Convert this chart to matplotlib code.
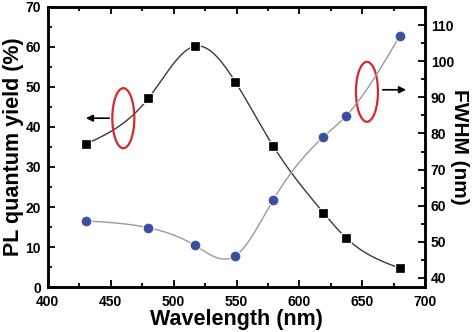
import numpy as np
import matplotlib.pyplot as plt
from matplotlib.patches import Ellipse
from matplotlib.ticker import MultipleLocator

plt.rcParams['font.family'] = ['Liberation Sans', 'DejaVu Sans']
plt.rcParams['font.weight'] = 'bold'

wavelength = [430, 480, 517, 549, 579, 619, 637, 680]
plqy = [35.7, 47.2, 60.2, 51.3, 35.3, 18.6, 12.3, 4.7]
fwhm = [55.8, 53.9, 49.0, 46.1, 61.5, 79.0, 84.8, 107.1]


def spline(x, y, n=300):
    # natural cubic spline
    x = np.asarray(x, float)
    y = np.asarray(y, float)
    k = len(x)
    h = np.diff(x)
    A = np.zeros((k, k))
    b = np.zeros(k)
    A[0, 0] = A[-1, -1] = 1
    for i in range(1, k - 1):
        A[i, i - 1] = h[i - 1]
        A[i, i] = 2 * (h[i - 1] + h[i])
        A[i, i + 1] = h[i]
        b[i] = 3 * ((y[i + 1] - y[i]) / h[i] - (y[i] - y[i - 1]) / h[i - 1])
    c = np.linalg.solve(A, b)
    xs = np.linspace(x[0], x[-1], n)
    idx = np.clip(np.searchsorted(x, xs) - 1, 0, k - 2)
    dx = xs - x[idx]
    bb = (y[idx + 1] - y[idx]) / h[idx] - h[idx] * (2 * c[idx] + c[idx + 1]) / 3
    dd = (c[idx + 1] - c[idx]) / (3 * h[idx])
    ys = y[idx] + bb * dx + c[idx] * dx ** 2 + dd * dx ** 3
    return xs, ys


fig = plt.figure(figsize=(4.74, 3.32), dpi=100)
ax = fig.add_axes([0.101, 0.1355, 0.796, 0.8435])
ax2 = ax.twinx()

xs, ys = spline(wavelength, plqy)
ax.plot(xs, ys, color='#3a3a3a', lw=1.0, zorder=2)
ax.plot(wavelength, plqy, 's', color='black', ms=6, mec='white', mew=2.0, zorder=3)
ax.plot(wavelength, plqy, 's', color='black', ms=6, mec='black', mew=0.5, zorder=4)

xs2, ys2 = spline(wavelength, fwhm)
ax2.plot(xs2, ys2, color='#9a9a9a', lw=1.0, zorder=2)
ax2.plot(wavelength, fwhm, 'o', color='#3b4f9e', ms=6.5, mec='white', mew=2.0, zorder=3)
ax2.plot(wavelength, fwhm, 'o', color='#3b4f9e', ms=6.5, mec='#3b4f9e', mew=0.5, zorder=4)

ax.set_xlim(400, 700)
ax.set_ylim(0, 70)
ax2.set_ylim(37.5, 115)

# red ellipses and arrows
ax.add_patch(Ellipse((460, 42.2), 17.5, 15, fill=False, ec='#d42a2a', lw=1.6, zorder=5))
ax.add_patch(Ellipse((653.7, 48.8), 17.5, 15, fill=False, ec='#d42a2a', lw=1.6, zorder=5))
ax.annotate('', xy=(428, 42.2), xytext=(451, 42.2),
            arrowprops=dict(arrowstyle='-|>', color='black', lw=1.2, mutation_scale=10))
ax.annotate('', xy=(687, 49.3), xytext=(664, 49.3),
            arrowprops=dict(arrowstyle='-|>', color='black', lw=1.2, mutation_scale=10))

ax.xaxis.set_major_locator(MultipleLocator(50))
ax.xaxis.set_minor_locator(MultipleLocator(25))
ax.yaxis.set_major_locator(MultipleLocator(10))
ax.yaxis.set_minor_locator(MultipleLocator(5))
ax2.yaxis.set_major_locator(MultipleLocator(10))
ax2.yaxis.set_minor_locator(MultipleLocator(5))

ax.tick_params(which='both', direction='in', top=True, right=False, width=1.3)
ax.tick_params(which='major', length=5, labelsize=10)
ax.tick_params(which='minor', length=3)
ax.tick_params(axis='x', which='major', pad=6)
ax.tick_params(axis='y', which='major', pad=5)
ax2.tick_params(which='both', direction='in', width=1.3)
ax2.tick_params(which='major', length=5, labelsize=10, pad=4)
ax2.tick_params(which='minor', length=3)

for a in (ax, ax2):
    for s in a.spines.values():
        s.set_linewidth(1.8)

ax.set_xlabel('Wavelength (nm)', fontsize=15.5, fontweight='bold', labelpad=0)
ax.set_ylabel('PL quantum yield (%)', fontsize=15.5, fontweight='bold', labelpad=1)
ax2.set_ylabel('FWHM (nm)', fontsize=15, fontweight='bold', rotation=270, labelpad=11)

fig.savefig('out.png', dpi=100)
